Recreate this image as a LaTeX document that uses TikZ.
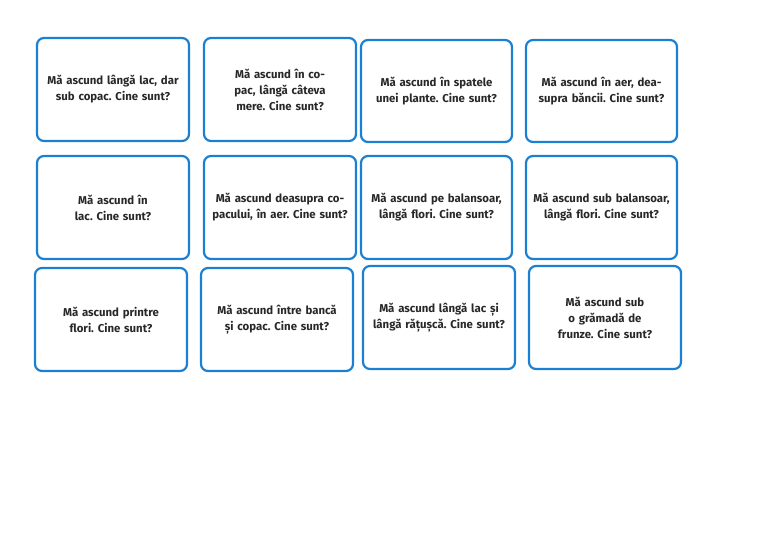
\documentclass[tikz,border=0pt]{standalone}
\usepackage{fontspec}
\setmainfont{Fira Sans}
\definecolor{cb}{RGB}{28,128,210}
\definecolor{tx}{RGB}{40,40,40}
\begin{document}
\begin{tikzpicture}[x=1pt,y=-1pt,
card/.style={draw=cb,line width=2.2pt,rounded corners=7pt,fill=white},
lab/.style={text width=138pt,align=center,font=\bfseries\fontsize{11.4}{16}\selectfont,text=tx}]
\useasboundingbox (0,0) rectangle (768,543);
\newcommand\cardat[6]{%
\draw[card] (#2,#3) rectangle (#4,#5);
\node[lab] (#1) at ({(#2+#4)/2},{(#3+#5)/2}) {\hyphenpenalty=10000 \frenchspacing #6};}
\cardat{a}{37}{38}{189}{141}{Mă ascund lângă lac, dar sub copac. Cine sunt?}
\cardat{b}{204}{38}{356}{141}{Mă ascund în copac, lângă câteva mere. Cine sunt?}
\cardat{c}{361}{40}{512}{142}{Mă ascund în spatele unei plante. Cine sunt?}
\cardat{d}{526}{40}{677}{142}{Mă ascund în aer, deasupra băncii. Cine sunt?}
\cardat{e}{37}{156}{189}{259}{Mă ascund în lac. Cine sunt?}
\cardat{f}{204}{156}{356}{259}{Mă ascund deasupra copacului, în aer. Cine sunt?}
\cardat{g}{361}{156}{512}{259}{Mă ascund pe balansoar, lângă flori. Cine sunt?}
\cardat{h}{526}{156}{677}{259}{Mă ascund sub balansoar, lângă flori. Cine sunt?}
\cardat{i}{35}{268}{187}{371}{Mă ascund printre flori. Cine sunt?}
\cardat{j}{201}{268}{353}{371}{Mă ascund între bancă și copac. Cine sunt?}
\cardat{k}{363}{266}{515}{369}{Mă ascund lângă lac și lângă rățușcă. Cine sunt?}
\cardat{l}{529}{266}{681}{369}{Mă ascund sub o grămadă de frunze. Cine sunt?}
\end{tikzpicture}
\end{document}
